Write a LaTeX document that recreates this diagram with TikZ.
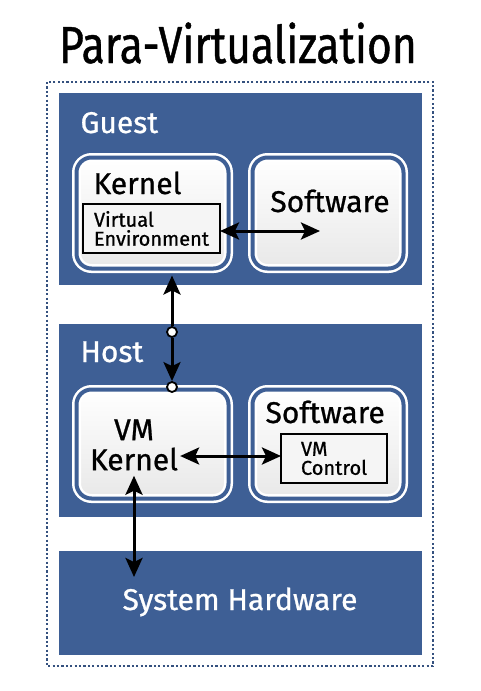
\documentclass[tikz,border=0pt]{standalone}
\usepackage{fontspec}
\setmainfont{Fira Sans}[FakeBold=0.8]
\newfontfamily\titlefont{Fira Sans}[FakeStretch=0.82, FakeBold=0.8]
\usetikzlibrary{arrows.meta}
\definecolor{vblue}{RGB}{62,95,149}

\begin{document}
\begin{tikzpicture}[x=1pt, y=-1pt,
	panel/.style={fill=vblue, anchor=north west, inner sep=0pt, outer sep=0pt},
	ibox/.style={draw=white, double=vblue, double distance=4pt, line width=2.5pt, rounded corners=15pt,
		top color=white, bottom color=black!9, anchor=north west, inner sep=0pt, outer sep=0pt,
		minimum width=152pt, minimum height=111pt},
	sbox/.style={draw=black, line width=2.2pt, fill=black!4, align=left, inner sep=0pt, outer sep=0pt,
		font=\fontsize{20}{19}\selectfont},
	big/.style={font=\fontsize{30}{30}\selectfont},
	dot/.style={circle, draw=black, fill=white, line width=1.8pt, inner sep=0pt, minimum size=10pt},
	arr/.style={line width=3pt, {Stealth[length=19pt, width=17pt, inset=4pt]}-{Stealth[length=19pt, width=17pt, inset=4pt]}},
	arrup/.style={line width=3pt, -{Stealth[length=19pt, width=17pt, inset=4pt]}}]
	\useasboundingbox (0,0) rectangle (480,691);
	\node[font=\titlefont\fontsize{52}{52}\selectfont, anchor=base] (title) at (238,63) {Para-Virtualization};
	\draw[vblue!85!black, line width=2.2pt, dash pattern=on 2.2pt off 2.2pt] (47,82) rectangle (433,666);

	% guest
	\node[panel, minimum width=363pt, minimum height=192pt] (guest) at (59,93) {};
	\node[big, text=white, anchor=base west] at (77,133) {Guest};
	\node[ibox] (gk) at (76.5,157.5) {};
	\node[ibox, minimum width=151pt] (gsw) at (252.5,157.5) {};
	\node[big, anchor=base west] at (90,194) {Kernel};
	\node[big, anchor=base] at (330,212) {Software};
	\node[sbox, minimum width=137pt, minimum height=49pt, anchor=north west] (ve) at (83,204) {Virtual\\Environment};
	\coordinate (gtip) at (320,231);
	\draw[arr] (ve.east |- gtip) -- (gtip);

	% host
	\node[panel, minimum width=363pt, minimum height=193pt] (host) at (59,324) {};
	\node[big, text=white, anchor=base west] at (77,362) {Host};
	\node[ibox, minimum height=109pt] (hk) at (76.5,389.5) {};
	\node[ibox, minimum width=151pt, minimum height=109pt] (hsw) at (252.5,389.5) {};
	\node[big, align=center, inner sep=2pt] (vmk) at (134,445) {VM\\Kernel};
	\node[big, anchor=base west] at (262,423) {Software};
	\node[sbox, minimum width=106pt, minimum height=49pt, anchor=north west] (vmc) at (281,434) {VM\\Control};
	\coordinate (htip) at (vmc.west |- 0,456);
	\draw[arr] (vmk.east |- htip) -- (htip);

	% hardware
	\node[panel, minimum width=363pt, minimum height=104pt] (hw) at (59,551) {};
	\node[big, text=white, anchor=base] at (240,610) {System Hardware};

	% links
	\node[dot] (c1) at (172,332) {};
	\node[dot] (c2) at (172,387) {};
	\draw[arrup] (c1) -- ([yshift=-7pt]c1 |- gk.south);
	\draw[arrup] (c1) -- (c2);
	\coordinate (hwtip) at (134,577);
	\draw[arr] ([yshift=-3pt]vmk.south) -- (vmk.south |- hwtip);
\end{tikzpicture}
\end{document}
